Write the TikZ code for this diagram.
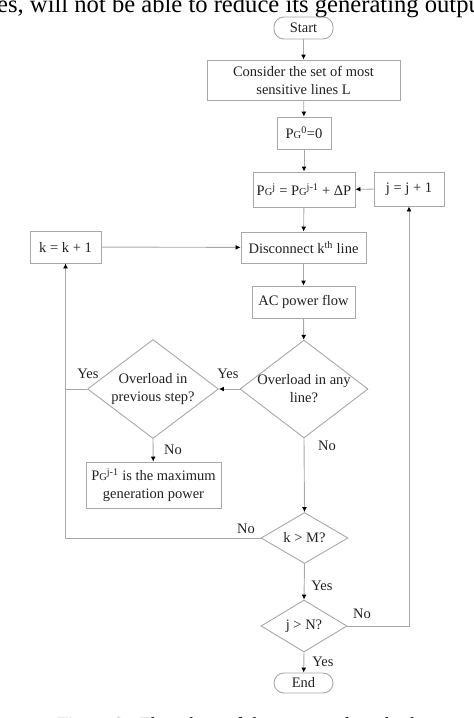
\documentclass[tikz,border=0pt]{standalone}
\usepackage{fontspec}
\setmainfont{Liberation Serif}
\usetikzlibrary{shapes.geometric,arrows.meta}
\definecolor{lncol}{HTML}{A8A8A8}
\definecolor{txcol}{HTML}{222222}
\newcommand{\PGx}{P{\fontsize{10.5}{10.5}\selectfont G}}
\begin{document}
\begin{tikzpicture}[x=1pt,y=-1pt,
  every node/.style={text=txcol,font=\fontsize{14.5}{18}\selectfont},
  box/.style={draw=lncol,line width=0.9pt,rectangle,inner sep=0pt,align=center},
  term/.style={box,rounded corners=10pt},
  dia/.style={draw=lncol,line width=0.9pt,diamond,inner sep=0pt},
  dtext/.style={align=center,inner sep=0pt},
  lbl/.style={inner sep=0pt},
  conn/.style={draw=lncol,line width=0.9pt,-{Latex[length=5pt,width=5pt,color=black]}},
  plain/.style={draw=lncol,line width=0.9pt}]
\useasboundingbox (0,0) rectangle (474,718);
\clip (0,0) rectangle (474,718);
\fill[white] (0,0) rectangle (474,718);
% page text fragments
\node[anchor=base west,inner sep=0pt,font=\fontsize{24.6}{24.6}\selectfont,text=black] (toptext) at (-3,12) {es, will not be able to reduce its generating output};
\node[anchor=base west,inner sep=0pt,font=\fontsize{20}{20}\selectfont,text=black] (caption) at (57,731) {Figure 2.\ \ Flowchart of the proposed method};
% nodes
\node[term,minimum width=59pt,minimum height=22pt] (start) at (303.5,28) {Start};
\node[box,minimum width=193pt,minimum height=40pt] (consider) at (303.5,80) {Consider the set of most\\sensitive lines L};
\node[box,minimum width=54pt,minimum height=32pt] (pg0) at (304,133) {\PGx\textsuperscript{0}=0};
\node[box,minimum width=102pt,minimum height=35pt] (pgj) at (304,189.5) {\PGx\textsuperscript{j} = \PGx\textsuperscript{j-1} + ΔP};
\node[box,minimum width=70pt,minimum height=34pt] (jinc) at (409,189) {j = j + 1};
\node[box,minimum width=71pt,minimum height=32pt] (kinc) at (65.5,247) {k = k + 1};
\node[box,minimum width=125pt,minimum height=31pt] (disc) at (303.5,247.5) {Disconnect k\textsuperscript{th} line};
\node[box,minimum width=103pt,minimum height=32pt] (ac) at (303.5,302) {AC power flow};
\node[dia,minimum width=128pt,minimum height=98pt] (d1) at (304,389) {};
\node[dtext] (d1t) at (d1.center) {Overload in any\\line?};
\node[dia,minimum width=131pt,minimum height=99pt] (d2) at (153,389) {};
\node[dtext] (d2t) at (d2.center) {Overload in\\previous step?};
\node[box,minimum width=135pt,minimum height=46pt] (result) at (153.5,485) {\PGx\textsuperscript{j-1} is the maximum\\generation power};
\node[dia,minimum width=87pt,minimum height=51pt] (d3) at (304.5,538) {};
\node[dtext] (d3t) at (d3.center) {k \textgreater{} M?};
\node[dia,minimum width=86pt,minimum height=52pt] (d4) at (304,626) {};
\node[dtext] (d4t) at (d4.center) {j \textgreater{} N?};
\node[term,minimum width=59pt,minimum height=20pt] (end) at (303.5,683) {End};
% connectors
\draw[conn] (start) -- (consider);
\draw[conn] (consider) -- (pg0);
\draw[conn] (pg0) -- (pgj);
\draw[conn] (pgj) -- (disc);
\draw[conn] (jinc) -- (pgj);
\draw[conn] (kinc) -- (disc);
\draw[conn] (disc) -- (ac);
\draw[conn] (ac) -- (d1);
\draw[conn] (d1.west) -- (d2.east);
\draw[conn] (d2.south) -- (result);
\draw[plain] (d2.west) -- (kinc.south |- d2.west);
\draw[conn] (d3.west) -| (kinc.south);
\draw[conn] (d1.south) -- (d3.north);
\draw[conn] (d3.south) -- (d4.north);
\draw[conn] (d4.east) -| (jinc.south);
\draw[conn] (d4.south) -- (end);
% labels
\node[lbl] (y1) at (228,374) {Yes};
\node[lbl] (y2) at (88,374) {Yes};
\node[lbl] (n1) at (173,450) {No};
\node[lbl] (n2) at (327,446) {No};
\node[lbl] (n3) at (246,529) {No};
\node[lbl] (y3) at (322,586) {Yes};
\node[lbl] (n4) at (362,614) {No};
\node[lbl] (y4) at (323,662) {Yes};
\end{tikzpicture}
\end{document}
